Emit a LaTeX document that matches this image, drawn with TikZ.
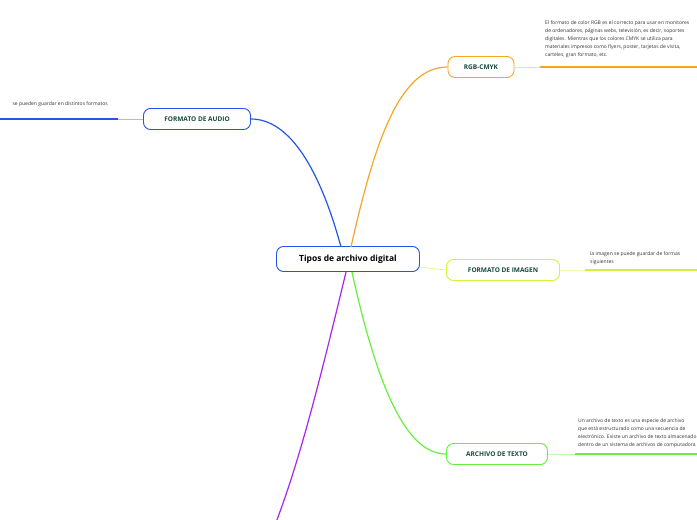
\documentclass[tikz,border=0pt]{standalone}
\usepackage{fontspec}
\setmainfont{Open Sans}
\definecolor{cOr}{HTML}{F5A623}
\definecolor{cYg}{HTML}{CCF53A}
\definecolor{cGr}{HTML}{66F03A}
\definecolor{cBl}{HTML}{2356E8}
\definecolor{cPu}{HTML}{A625F0}
\definecolor{cTx}{HTML}{164A3C}
\begin{document}
\begin{tikzpicture}[x=1pt,y=-1pt,
  topic/.style={draw=#1,line width=0.9pt,rounded corners=7pt,fill=white,font=\bfseries\fontsize{6.5}{8}\selectfont,text=cTx,minimum height=21pt,inner xsep=8pt},
  note/.style={anchor=north west,align=left,font=\fontsize{5}{8}\selectfont,text=black!80,inner sep=0pt},
  thick line/.style={line width=1.5pt,#1}]
\clip (0,0) rectangle (697,520);
\useasboundingbox (0,0) rectangle (697,520);
\node[draw=cBl,line width=0.9pt,rounded corners=7pt,fill=white,font=\bfseries\fontsize{8.5}{10}\selectfont,minimum width=143pt,minimum height=25pt] (c) at (348,259) {Tipos de archivo digital};
\node[topic=cOr,minimum width=66pt] (rgb) at (481,67) {RGB-CMYK};
\node[topic=cYg,minimum width=113pt] (img) at (503,270) {FORMATO DE IMAGEN};
\node[topic=cGr,minimum width=101pt] (txt) at (497,454) {ARCHIVO DE TEXTO};
\node[topic=cBl,minimum width=107pt] (aud) at (197,119) {FORMATO DE AUDIO};
\coordinate (pu) at (275,525);
% connectors
\begin{scope}[on background layer/.style={}]
\end{scope}
\draw[cOr,line width=1.2pt] (351,247) .. controls (375,140) and (400,67) .. (rgb.west);
\draw[cBl,line width=1.2pt] (341,247) .. controls (320,170) and (290,119) .. (aud.east);
\draw[cYg!60,line width=0.8pt] (c.east) ++(0,8) -- (img.west);
\draw[cGr,line width=1.2pt] (352,272) .. controls (380,400) and (410,454) .. (txt.west);
\draw[cPu,line width=1.2pt] (346,272) .. controls (320,380) and (300,460) .. (pu);
% right leaders
\draw[cOr!40,line width=1pt] (rgb.east) -- (540,67);
\draw[thick line=cOr] (540,67) -- (697,67);
\draw[cYg!40,line width=1pt] (img.east) -- (585,270);
\draw[thick line=cYg] (585,270) -- (697,270);
\draw[cGr!40,line width=1pt] (txt.east) -- (575,454);
\draw[thick line=cGr] (575,454) -- (697,454);
\draw[cBl!40,line width=1pt] (aud.west) -- (118,119);
\draw[thick line=cBl] (118,119) -- (0,119);
% notes
\node[note] (n1) at (545,20) {El formato de color RGB es el correcto para usar en monitores\\de ordenadores, páginas webs, televisión, es decir, soportes\\digitales. Mientras que los colores CMYK se utiliza para\\materiales impresos como flyers, poster, tarjetas de visita,\\carteles, gran formato, etc.};
\node[note] (n2) at (590,251) {la imagen se puede guardar de formas\\siguientes};
\node[note] (n3) at (578,418) {Un archivo de texto es una especie de archivo\\que está estructurado como una secuencia de\\electrónico. Existe un archivo de texto almacenado\\dentro de un sistema de archivos de computadora};
\node[note,anchor=north east] (n4) at (108,101) {se pueden guardar en distintos formatos};
\end{tikzpicture}
\end{document}
